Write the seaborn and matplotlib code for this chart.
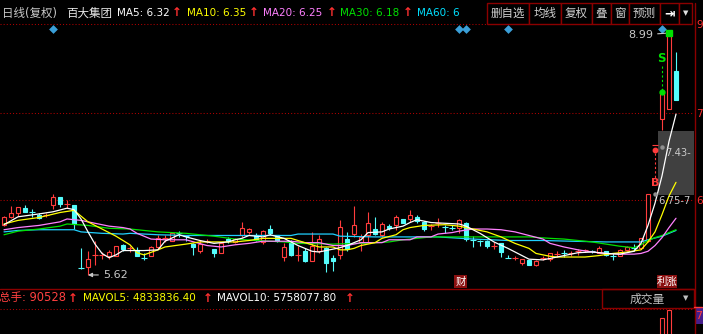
import numpy as np
import pandas as pd
import matplotlib
matplotlib.use("Agg")
import matplotlib.pyplot as plt
from matplotlib.patches import Rectangle
from matplotlib.lines import Line2D
import seaborn as sns

# ---------------- data ----------------
opens = [6.32, 6.43, 6.48, 6.55, 6.50, 6.46, 6.45, 6.59, 6.71, 6.60,
         6.59, 5.73, 5.73, 5.89, 5.89, 5.89, 5.89, 6.04, 5.98, 5.97,
         5.87, 5.89, 6.01, 6.13, 6.10, 6.21, 6.17, 6.05, 5.95, 6.08,
         5.98, 5.93, 6.12, 6.08, 6.18, 6.22, 6.18, 6.08, 6.26, 6.17,
         5.87, 6.07, 5.89, 5.95, 5.82, 5.95, 5.99, 5.86, 5.90, 6.12,
         6.19, 6.08, 6.18, 6.26, 6.18, 6.30, 6.32, 6.40, 6.40, 6.43,
         6.36, 6.29, 6.34, 6.30, 6.28, 6.27, 6.35, 6.12, 6.11, 6.10,
         6.02, 6.07, 5.86, 5.84, 5.79, 5.83, 5.76, 5.85, 5.84, 5.90,
         5.93, 5.92, 5.95, 5.96, 5.96, 5.92, 5.95, 5.90, 5.89, 5.97,
         6.01, 5.99, 6.10, 7.43, 7.79, 7.93, 8.46]
highs = [6.44, 6.58, 6.57, 6.59, 6.54, 6.48, 6.48, 6.75, 6.71, 6.66,
         6.60, 5.99, 5.95, 6.09, 5.94, 5.97, 6.03, 6.05, 6.02, 6.01,
         5.92, 6.02, 6.18, 6.17, 6.22, 6.23, 6.18, 6.07, 6.11, 6.12,
         5.98, 6.08, 6.15, 6.14, 6.36, 6.28, 6.20, 6.25, 6.31, 6.18,
         6.07, 6.11, 6.02, 6.00, 6.22, 6.18, 6.01, 5.90, 6.39, 6.22,
         6.58, 6.19, 6.50, 6.43, 6.36, 6.33, 6.46, 6.40, 6.53, 6.46,
         6.37, 6.33, 6.41, 6.32, 6.32, 6.40, 6.36, 6.16, 6.11, 6.11,
         6.08, 6.07, 5.90, 5.89, 5.84, 5.83, 5.83, 5.88, 5.93, 5.95,
         5.97, 5.96, 5.98, 5.98, 5.97, 6.03, 5.96, 5.92, 5.98, 6.02,
         6.05, 6.13, 6.75, 7.43, 8.17, 8.99, 8.73]
lows = [6.30, 6.42, 6.44, 6.49, 6.43, 6.40, 6.43, 6.54, 6.57, 6.55,
        6.26, 5.71, 5.62, 5.76, 5.84, 5.84, 5.88, 5.96, 5.94, 5.89,
        5.83, 5.88, 5.98, 6.08, 6.09, 6.15, 6.09, 5.90, 5.92, 6.07,
        5.87, 5.92, 6.07, 6.07, 6.15, 6.19, 6.10, 6.05, 6.18, 6.08,
        5.82, 5.89, 5.82, 5.80, 5.81, 5.93, 5.66, 5.67, 5.84, 5.95,
        6.15, 5.95, 6.08, 6.17, 6.15, 6.25, 6.25, 6.34, 6.36, 6.35,
        6.23, 6.25, 6.29, 6.21, 6.25, 6.21, 6.10, 6.01, 6.02, 6.00,
        5.98, 5.87, 5.85, 5.83, 5.76, 5.76, 5.75, 5.83, 5.82, 5.87,
        5.87, 5.89, 5.90, 5.94, 5.92, 5.92, 5.89, 5.83, 5.88, 5.95,
        5.95, 5.98, 6.08, 7.43, 7.64, 7.93, 8.06]
closes = [6.43, 6.48, 6.57, 6.50, 6.49, 6.41, 6.46, 6.71, 6.61, 6.61,
          6.33, 5.72, 5.84, 5.90, 5.90, 5.94, 6.02, 5.98, 5.99, 5.89,
          5.86, 6.01, 6.14, 6.14, 6.21, 6.20, 6.16, 6.01, 6.05, 6.09,
          5.93, 6.07, 6.09, 6.12, 6.28, 6.26, 6.12, 6.23, 6.21, 6.09,
          6.01, 5.90, 5.90, 5.82, 6.02, 6.12, 5.79, 5.82, 6.29, 5.98,
          6.32, 6.15, 6.34, 6.19, 6.33, 6.27, 6.43, 6.35, 6.46, 6.37,
          6.26, 6.30, 6.35, 6.29, 6.27, 6.38, 6.12, 6.11, 6.10, 6.02,
          6.03, 5.94, 5.85, 5.85, 5.84, 5.76, 5.81, 5.86, 5.92, 5.91,
          5.92, 5.93, 5.96, 5.97, 5.95, 5.99, 5.90, 5.89, 5.97, 6.01,
          6.00, 6.13, 6.75, 7.43, 8.17, 8.99, 8.06]

ma5_idx = [0, 2, 5, 7, 9, 10, 11, 12, 13, 14, 15, 16, 17, 19, 20, 22, 23, 25, 26, 28,
           30, 32, 33, 34, 35, 37, 38, 40, 42, 44, 45, 47, 48, 49, 51, 52, 54, 55, 57, 58,
           59, 61, 63, 65, 66, 67, 68, 70, 72, 74, 75, 77, 78, 80, 82, 84, 86, 88, 90, 91,
           92, 93, 94, 95, 96]
ma5_val = [6.32, 6.43, 6.47, 6.50, 6.55, 6.53, 6.40, 6.22, 6.05, 5.92, 5.86, 5.90, 5.96, 5.96, 5.96, 5.97, 6.09, 6.18, 6.15, 6.10,
           6.06, 6.08, 6.11, 6.13, 6.17, 6.15, 6.18, 6.13, 6.03, 5.95, 5.94, 5.98, 6.00, 6.03, 6.11, 6.21, 6.22, 6.26, 6.30, 6.35,
           6.39, 6.35, 6.34, 6.33, 6.30, 6.25, 6.20, 6.08, 5.99, 5.89, 5.84, 5.83, 5.85, 5.89, 5.93, 5.94, 5.92, 5.91, 5.95, 6.06,
           6.31, 6.62, 7.00, 7.48, 7.86]
ma10_idx = [0, 2, 5, 8, 10, 11, 12, 14, 15, 16, 18, 19, 20, 22, 23, 26, 28, 30, 33, 35,
            37, 41, 42, 45, 47, 48, 49, 50, 51, 53, 54, 56, 57, 58, 60, 63, 65, 67, 69, 71,
            73, 75, 76, 78, 79, 81, 83, 85, 87, 89, 91, 92, 93, 94, 95, 96]
ma10_val = [6.33, 6.38, 6.42, 6.49, 6.52, 6.44, 6.36, 6.26, 6.21, 6.16, 6.04, 5.93, 5.90, 5.97, 6.01, 6.05, 6.08, 6.08, 6.08, 6.10,
            6.13, 6.13, 6.10, 6.01, 6.01, 5.97, 5.97, 5.99, 6.03, 6.07, 6.13, 6.18, 6.25, 6.28, 6.31, 6.32, 6.30, 6.26, 6.22, 6.15,
            6.06, 5.99, 5.92, 5.88, 5.87, 5.87, 5.87, 5.89, 5.92, 5.94, 5.97, 6.08, 6.22, 6.46, 6.72, 6.91]
ma20_idx = [0, 2, 5, 8, 9, 11, 13, 15, 17, 18, 19, 21, 23, 26, 29, 31, 33, 35, 37, 41,
            43, 45, 47, 49, 51, 54, 55, 58, 59, 61, 62, 64, 65, 67, 69, 71, 73, 75, 77, 78,
            80, 82, 84, 86, 88, 90, 91, 92, 93, 94, 95, 96]
ma20_val = [6.25, 6.28, 6.31, 6.36, 6.40, 6.38, 6.34, 6.30, 6.28, 6.26, 6.20, 6.12, 6.11, 6.11, 6.03, 6.01, 6.04, 6.06, 6.09, 6.09,
            6.07, 6.07, 6.03, 6.03, 6.07, 6.07, 6.11, 6.11, 6.15, 6.15, 6.19, 6.21, 6.23, 6.26, 6.26, 6.25, 6.22, 6.17, 6.12, 6.06,
            6.01, 5.97, 5.94, 5.92, 5.91, 5.91, 5.92, 5.95, 6.03, 6.14, 6.28, 6.41]
ma30_idx = [0, 2, 5, 8, 9, 12, 15, 18, 22, 26, 30, 33, 36, 40, 42, 47, 51, 55, 57, 59,
            61, 66, 70, 75, 78, 80, 82, 84, 86, 88, 90, 91, 92, 93, 94, 95, 96]
ma30_val = [6.18, 6.23, 6.26, 6.30, 6.33, 6.31, 6.27, 6.26, 6.22, 6.20, 6.16, 6.12, 6.10, 6.08, 6.06, 6.05, 6.06, 6.08, 6.11, 6.13,
            6.15, 6.15, 6.15, 6.15, 6.13, 6.12, 6.10, 6.08, 6.05, 6.02, 6.00, 6.04, 6.10, 6.14, 6.17, 6.21, 6.25]
ma60_idx = [0, 2, 5, 10, 11, 14, 17, 18, 22, 26, 41, 42, 47, 48, 53, 62, 67, 72, 77, 81,
            86, 91, 92, 94, 96]
ma60_val = [6.22, 6.24, 6.25, 6.25, 6.22, 6.20, 6.19, 6.20, 6.18, 6.17, 6.17, 6.19, 6.19, 6.16, 6.15, 6.15, 6.12, 6.10, 6.10, 6.09,
            6.08, 6.08, 6.11, 6.16, 6.24]

vol_idx = [94, 95]
vol_val = [578000, 690000]

grid_prices = [9.11, 7.88, 6.66]
grid_labels = ["9", "7", "6"]
vol_grid = 700000
info_idx = [7, 65, 66, 72, 94]

header_items = [("日线(复权)", "#c8c8c8"), ("百大集团", "#e8e8e8"),
                ("MA5: 6.32", "#ffffff"), ("MA10: 6.35", "#ffff00"),
                ("MA20: 6.25", "#ff80ff"), ("MA30: 6.18", "#00e000"),
                ("MA60: 6", "#00e0ff")]
vol_header_items = [("总手: 90528", "#ff4040"), ("MAVOL5: 4833836.40", "#ffff00"),
                    ("MAVOL10: 5758077.80", "#ffffff")]
buttons = ["删自选", "均线", "复权", "叠", "窗", "预测", "⇥", "▼"]

# ---------------- style ----------------
sns.set_theme(style="dark", rc={"axes.facecolor": "black", "figure.facecolor": "black",
                                "axes.edgecolor": "black"})
plt.rcParams["font.family"] = ["DejaVu Sans", "Noto Sans CJK SC"]

RED = "#ff3c3c"
CYAN = "#54fcfc"
DARKRED = "#8b0000"
GRIDC = "#b00000"
GRAYT = "#c8c8c8"

W, H = 703, 334
fig = plt.figure(figsize=(W / 100, H / 100), dpi=100)
fig.patch.set_facecolor("black")

X0, DX = 4, 7            # pixel of first candle, candle spacing
P0, Y0, PPU = 8.99, 33, 71.8   # price scale calibration


def xi(px):
    return (px - X0) / DX


def yp(py):
    return P0 - (py - Y0) / PPU


def fx(x):
    return x / W


def fy(y):
    return 1 - y / H


def ftext(x, y, s, color, size=7.5, ha="left", **kw):
    fig.text(fx(x), fy(y), s, color=color, fontsize=size, ha=ha, va="center", **kw)


# ---------------- main price axes ----------------
ax = fig.add_axes([0, fy(289), 694 / W, 271 / H])
ax.set_facecolor("black")
ax.set_xlim(xi(0), xi(694))
ax.set_ylim(yp(289), yp(18))
for s in ax.spines.values():
    s.set_visible(False)

o = np.array(opens); h = np.array(highs); l = np.array(lows); c = np.array(closes)
idx = np.arange(len(c))
up = c >= o
doji = np.abs(c - o) < 0.015
hollow = up & ~doji
top = np.maximum(o, c)
bot = np.minimum(o, c)
cols = np.where(up, RED, CYAN)
BW = 0.68
LW = 0.8

ax.vlines(idx[~hollow], l[~hollow], h[~hollow], colors=cols[~hollow], lw=LW, zorder=2)
ax.vlines(idx[hollow], l[hollow], bot[hollow], colors=RED, lw=LW, zorder=2)
ax.vlines(idx[hollow], top[hollow], h[hollow], colors=RED, lw=LW, zorder=2)
nd = ~doji
ax.bar(idx[nd], (top - bot)[nd], bottom=bot[nd], width=BW,
       color=np.where(up, "black", CYAN)[nd], edgecolor=cols[nd], linewidth=LW, zorder=3)
ax.hlines(c[doji], idx[doji] - BW / 2 - 0.1, idx[doji] + BW / 2 + 0.1, colors=cols[doji], lw=LW, zorder=3)

# gray signal box (under MA lines)
ax.add_patch(Rectangle((xi(658), yp(195)), xi(694) - xi(658), yp(131) - yp(195),
                       facecolor="#404040", edgecolor="none", zorder=1.5))

# moving averages via seaborn
ma_frames = []
for name, ix, vals in [("MA60", ma60_idx, ma60_val), ("MA30", ma30_idx, ma30_val),
                       ("MA20", ma20_idx, ma20_val), ("MA10", ma10_idx, ma10_val),
                       ("MA5", ma5_idx, ma5_val)]:
    ma_frames.append(pd.DataFrame({"idx": ix, "val": vals, "ma": name}))
df_ma = pd.concat(ma_frames, ignore_index=True)
palette = {"MA5": "#ffffff", "MA10": "#ffff00", "MA20": "#ff80ff", "MA30": "#00e000", "MA60": "#20d0ff"}
sns.lineplot(data=df_ma, x="idx", y="val", hue="ma", hue_order=["MA60", "MA30", "MA20", "MA10", "MA5"],
             palette=palette, estimator=None, legend=False, linewidth=0.9, ax=ax)
for ln in ax.lines:
    ln.set_zorder(4)
ax.set_xlabel("")
ax.set_ylabel("")

# grid + right labels
ax.set_yticks(grid_prices)
ax.set_yticklabels(grid_labels)
ax.yaxis.tick_right()
ax.tick_params(axis="y", length=0, pad=1.5, labelcolor="#ff3030", labelsize=7.5)
ax.tick_params(axis="x", bottom=False, labelbottom=False)
ax.grid(False)
ax.yaxis.grid(True, color=GRIDC, linestyle=(0, (1, 2)), linewidth=0.75)

# info diamonds at top
ax.scatter(info_idx, [0.9594] * len(info_idx), transform=ax.get_xaxis_transform(),
           marker="D", s=20, color="#3a9fd8", linewidths=0, zorder=6, clip_on=False)

# min / max annotations
imin = int(np.argmin(l))
ax.annotate(f"{l[imin]:.2f}", xy=(imin, l[imin]), xytext=(15, 0), textcoords="offset pixels",
            ha="left", va="center", color=GRAYT, fontsize=8,
            arrowprops=dict(arrowstyle="-|>", color=GRAYT, lw=0.8, mutation_scale=6,
                            shrinkA=1, shrinkB=0), zorder=6)
imax = int(np.argmax(h))
ax.annotate(f"{h[imax]:.2f}", xy=(imax, h[imax]), xytext=(-16, -2), textcoords="offset pixels",
            ha="right", va="center", color=GRAYT, fontsize=8,
            arrowprops=dict(arrowstyle="-", color=GRAYT, lw=0.8, shrinkA=1, shrinkB=2), zorder=6)

# B / S signal marks
ax.plot([xi(655), xi(655)], [yp(153), yp(178)], ls=(0, (2, 2)), color=RED, lw=0.8, zorder=5)
ax.plot([xi(655)], [yp(150)], "o", ms=3.2, color=RED, zorder=6)
ax.text(xi(655), yp(183), "B", color=RED, fontsize=8, fontweight="bold", ha="center", va="center", zorder=6)
ax.plot([xi(662), xi(655)], [yp(147), yp(194)], "o", ms=2.2, color="#909090", ls="none", zorder=6)
ax.text(xi(665), yp(153.5), "7.43-", color=GRAYT, fontsize=7.2, ha="left", va="center", zorder=6)
ax.text(xi(658), yp(200.5), "6.75-7", color=GRAYT, fontsize=7.2, ha="left", va="center", zorder=6)

ax.plot([xi(662), xi(662)], [yp(66), yp(90)], ls=(0, (2, 2)), color="#00e000", lw=0.8, zorder=5)
ax.plot([94], [c[94]], "o", ms=3.5, color="#00e000", zorder=6)
ax.text(xi(661), yp(59), "S", color="#00e000", fontsize=8.5, fontweight="bold", ha="center", va="center", zorder=6)
ax.plot([95], [h[95]], "s", ms=5, color="#00e000", zorder=6)

# ---------------- volume axes ----------------
axv = fig.add_axes([0, 0, 694 / W, 26 / H])
axv.set_facecolor("black")
axv.set_xlim(xi(0), xi(694))
axv.set_ylim(350000, 720000)
for s in axv.spines.values():
    s.set_visible(False)
axv.bar(vol_idx, vol_val, width=BW, color="black", edgecolor=RED, linewidth=LW, zorder=3)
axv.axhline(vol_grid, color=GRIDC, linestyle=(0, (1, 2)), linewidth=0.75)
axv.set_xticks([]); axv.set_yticks([])
axv.grid(False)

# ---------------- frame lines ----------------
fig.add_artist(Line2D([fx(0), fx(694)], [fy(289), fy(289)], color=DARKRED, lw=1.0))
fig.add_artist(Line2D([fx(694.5), fx(694.5)], [fy(3), fy(334)], color=DARKRED, lw=1.0))
fig.add_artist(Line2D([fx(694), fx(702)], [fy(306.5), fy(306.5)], color=RED, lw=1.0))

# ---------------- header ----------------
hx = [2, 66, 117, 187, 263, 340, 417]
arrows_x = [None, None, 172, 249, 327, 403, None]
for (txt, col), x, ax_ in zip(header_items, hx, arrows_x):
    size = 8.3 if any(ord(ch) > 0x2e80 for ch in txt) else 7.5
    ftext(x, 13, txt, col, size=size)
    if ax_ is not None:
        ftext(ax_, 13, "↑", "#ff3030", size=8.5, fontweight="bold")

edges = [487, 529, 561, 592, 611, 629, 660, 679, 692]
for k, lab in enumerate(buttons):
    x1, x2 = edges[k], edges[k + 1]
    fig.add_artist(Rectangle((fx(x1), fy(23.5)), (x2 - x1) / W, 20 / H, transform=fig.transFigure,
                             facecolor="black", edgecolor=DARKRED, lw=1.0))
    if lab == "⇥":
        ftext((x1 + x2) / 2, 13.5, lab, "#ffffff", size=9, ha="center", fontweight="bold")
    elif lab == "▼":
        ftext((x1 + x2) / 2, 13, lab, "#e0e0e0", size=5, ha="center")
    else:
        ftext((x1 + x2) / 2, 13.5, lab, "#d0d0d0", size=8.3, ha="center")

# bottom event markers
for (x1, x2, lab) in [(454, 467, "财"), (657, 677, "利涨")]:
    fig.add_artist(Rectangle((fx(x1), fy(288)), (x2 - x1) / W, 13 / H, transform=fig.transFigure,
                             facecolor="#8b1010", edgecolor="none"))
    ftext((x1 + x2) / 2, 281.5, lab, "#ffffff", size=7.5, ha="center")

# volume header
vx = [-1, 83, 217]
vax = [68, 203, 345]
for (txt, col), x, a in zip(vol_header_items, vx, vax):
    size = 8.3 if any(ord(ch) > 0x2e80 for ch in txt) else 7.5
    ftext(x, 298, txt, col, size=size)
    ftext(a, 298, "↑", "#ff3030", size=8.5, fontweight="bold")

fig.add_artist(Rectangle((fx(602), fy(308)), 92 / W, 19 / H, transform=fig.transFigure,
                         facecolor="black", edgecolor=DARKRED, lw=1.0))
ftext(647.5, 299, "成交量", "#c0c0c0", size=8.5, ha="center")
ftext(686, 298.5, "▼", "#c0c0c0", size=5, ha="center")

fig.add_artist(Rectangle((fx(695), fy(324)), 8 / W, 16 / H, transform=fig.transFigure,
                         facecolor="#461e8c", edgecolor="none"))
ftext(699, 316, "7", "#ff4040", size=8, ha="center")

fig.savefig("out.png", dpi=100, facecolor="black")
